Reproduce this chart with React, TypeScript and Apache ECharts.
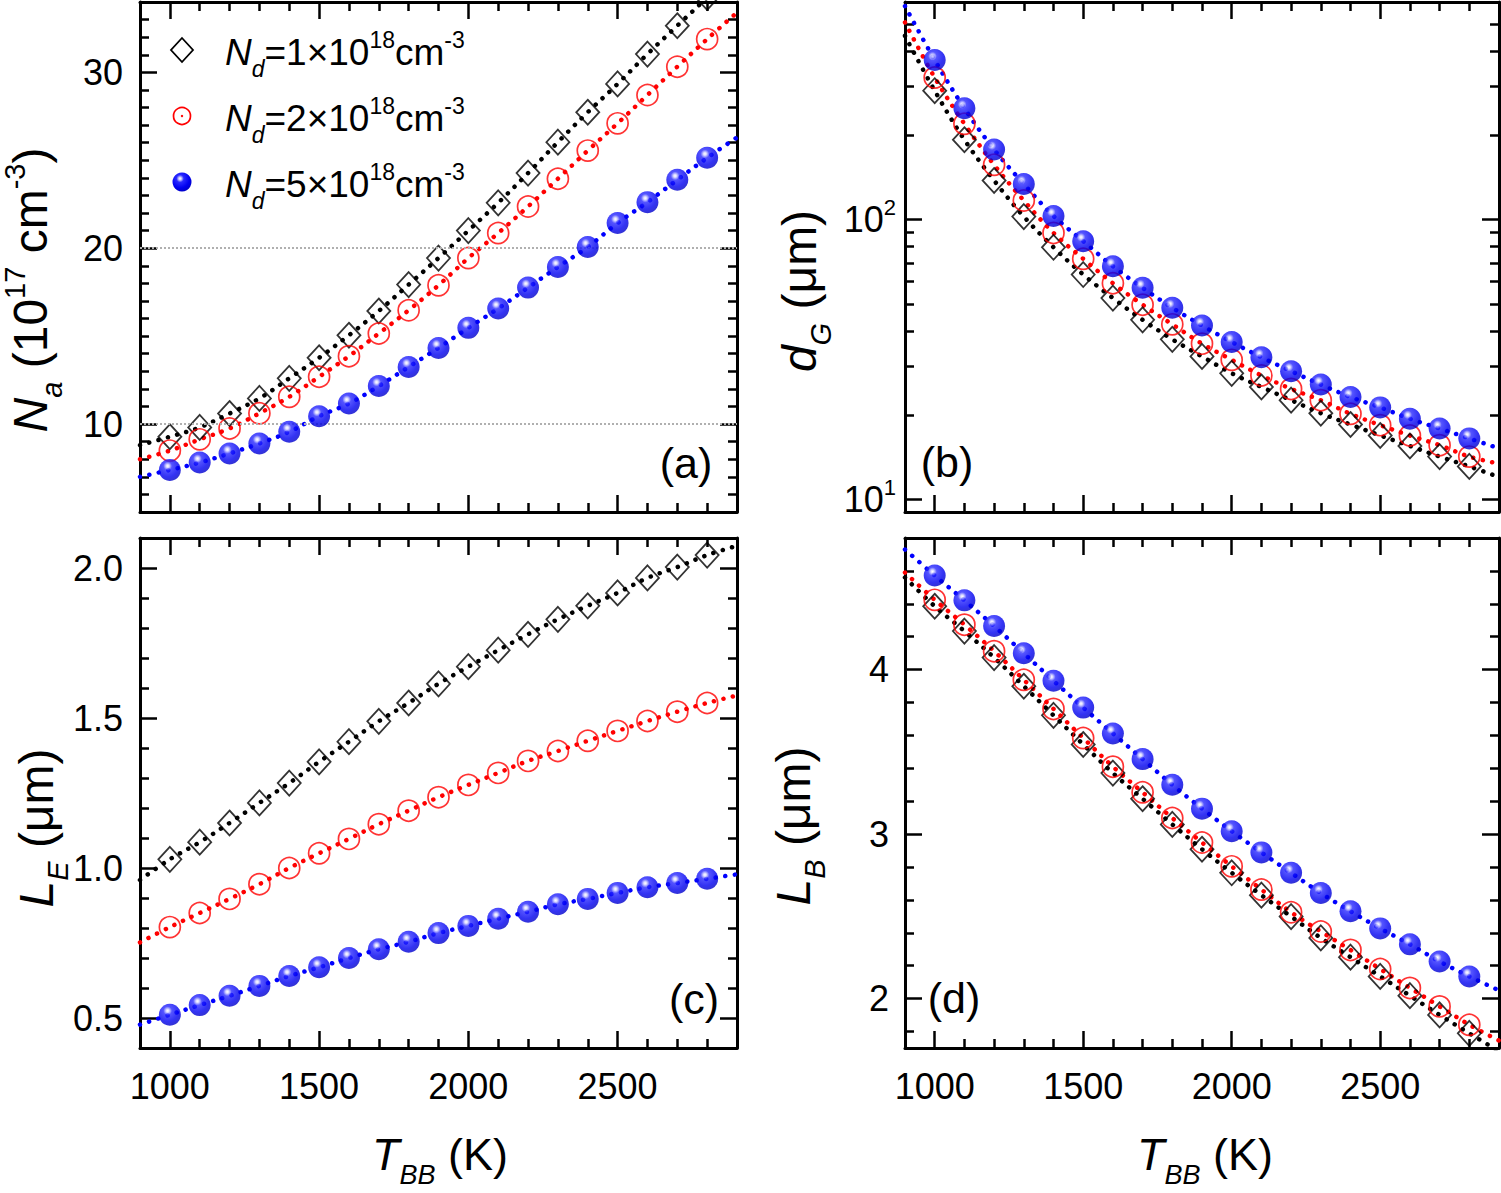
import React, { useEffect, useRef } from "react";
import * as echarts from "echarts";

const FONT = "'Liberation Sans', Arial, Helvetica, sans-serif";

// Black-body temperature (K) of the data points
const T_BB = [1000, 1100, 1200, 1300, 1400, 1500, 1600, 1700, 1800, 1900, 2000, 2100, 2200, 2300, 2400, 2500, 2600, 2700, 2800];
// Fit curves run across the whole axis: values at the two ends
const FIT_T_ENDS = [900, 2900];

// Donor doping levels (×10^18 cm^-3)
const ND_COEF = ["1", "2", "5"];
const SERIES_NAMES = ["Nd=1e18", "Nd=2e18", "Nd=5e18"];

// (a) N_a (10^17 cm^-3)
const NA_ND1 = [9.28, 9.81, 10.6, 11.46, 12.6, 13.77, 15.05, 16.43, 17.93, 19.44, 21.0, 22.58, 24.27, 26.03, 27.73, 29.34, 31.04, 32.65, 34.26];
const NA_ND2 = [8.49, 9.13, 9.75, 10.61, 11.55, 12.69, 13.86, 15.15, 16.47, 17.89, 19.44, 20.86, 22.37, 23.95, 25.55, 27.1, 28.71, 30.32, 31.89];
const NA_ND5 = [7.39, 7.81, 8.33, 8.9, 9.56, 10.45, 11.17, 12.16, 13.25, 14.33, 15.47, 16.57, 17.76, 18.93, 20.07, 21.43, 22.62, 23.89, 25.14];
const NA_FIT_ENDS = [[8.8, 35.9], [8.0, 33.4], [7.0, 26.3]];
const NA_REF_LINES = [10, 20];

// (b) d_G (um), log axis
const DG_ND1 = [289, 193, 138, 102.5, 79.6, 63.6, 52.4, 43.8, 37.3, 32.4, 28.2, 25.2, 22.6, 20.3, 18.5, 16.9, 15.5, 14.2, 13.1];
const DG_ND2 = [322, 220, 157, 117, 89.6, 72.4, 59.2, 49.6, 42.2, 36.0, 31.5, 27.7, 24.8, 22.6, 20.2, 18.4, 16.9, 15.6, 14.2];
const DG_ND5 = [372, 250, 178, 134, 103, 83.7, 68.1, 57.0, 48.4, 41.8, 36.5, 32.2, 28.7, 25.7, 23.2, 21.3, 19.4, 17.9, 16.5];
const DG_FIT_ENDS = [[454, 12.0], [507, 13.4], [580, 15.2]];

// (c) L_E (um)
const LE_ND1 = [1.029, 1.086, 1.15, 1.217, 1.283, 1.354, 1.421, 1.489, 1.55, 1.614, 1.671, 1.726, 1.779, 1.829, 1.874, 1.917, 1.967, 2.003, 2.043];
const LE_ND2 = [0.803, 0.85, 0.897, 0.946, 1.0, 1.049, 1.097, 1.146, 1.191, 1.236, 1.277, 1.317, 1.357, 1.39, 1.424, 1.457, 1.49, 1.521, 1.55];
const LE_ND5 = [0.511, 0.543, 0.574, 0.607, 0.64, 0.669, 0.7, 0.729, 0.754, 0.783, 0.807, 0.831, 0.854, 0.879, 0.897, 0.917, 0.936, 0.95, 0.964];
const LE_FIT_ENDS = [[0.96, 2.074], [0.752, 1.575], [0.478, 0.979]];

// (d) L_B (um)
const LB_ND1 = [4.385, 4.234, 4.073, 3.899, 3.722, 3.545, 3.371, 3.215, 3.059, 2.908, 2.765, 2.629, 2.499, 2.369, 2.252, 2.135, 2.018, 1.901, 1.789];
const LB_ND2 = [4.424, 4.273, 4.112, 3.938, 3.761, 3.584, 3.41, 3.254, 3.098, 2.949, 2.804, 2.663, 2.525, 2.408, 2.296, 2.18, 2.065, 1.953, 1.841];
const LB_ND5 = [4.572, 4.421, 4.265, 4.099, 3.932, 3.769, 3.612, 3.456, 3.3, 3.155, 3.018, 2.889, 2.765, 2.642, 2.531, 2.427, 2.33, 2.226, 2.135];
const LB_FIT_ENDS = [[4.56, 1.68], [4.59, 1.745], [4.73, 2.05]];

// Tick values
const X_MAJOR = [1000, 1500, 2000, 2500];
const X_MINOR = [1100, 1200, 1300, 1400, 1600, 1700, 1800, 1900, 2100, 2200, 2300, 2400, 2600, 2700, 2800];
const NA_MAJOR = [10, 20, 30];
const NA_MINOR = [6, 7, 8, 9, 11, 12, 13, 14, 15, 16, 17, 18, 19, 21, 22, 23, 24, 25, 26, 27, 28, 29, 31, 32, 33];
const DG_MAJOR = [10, 100];
const DG_MINOR = [20, 30, 40, 50, 60, 70, 80, 90, 200, 300, 400, 500];
const LE_MAJOR = [0.5, 1.0, 1.5, 2.0];
const LE_MINOR = [0.6, 0.7, 0.8, 0.9, 1.1, 1.2, 1.3, 1.4, 1.6, 1.7, 1.8, 1.9];
const LB_MAJOR = [2, 3, 4];
const LB_MINOR = [1.8, 2.2, 2.4, 2.6, 2.8, 3.2, 3.4, 3.6, 3.8, 4.2, 4.4, 4.6];

const COLORS = ["#000000", "#ff0000", "#0000ff"];
const TICK_FS = 36;

const ballGradient = () =>
  new echarts.graphic.RadialGradient(0.4, 0.32, 0.7, [
    { offset: 0, color: "#ffffff" },
    { offset: 0.1, color: "#d0d0ff" },
    { offset: 0.28, color: "#2a2aff" },
    { offset: 0.7, color: "#0000f0" },
    { offset: 1, color: "#0000c8" },
  ]);

const markerStyle = (k: number) => {
  if (k === 0)
    return { symbol: "diamond", symbolSize: [23, 25], itemStyle: { color: "rgba(0,0,0,0)", borderColor: "#000", borderWidth: 1.8 } };
  if (k === 1)
    return { symbol: "circle", symbolSize: 21, itemStyle: { color: "rgba(0,0,0,0)", borderColor: "#ff0000", borderWidth: 1.7 } };
  return { symbol: "circle", symbolSize: 22, itemStyle: { color: ballGradient(), borderWidth: 0 } };
};

const PANELS = [
  { grid: { left: 140, top: 2, width: 597, height: 510 }, yType: "value", yMin: 5, yMax: 34, yMajor: NA_MAJOR, yMinor: NA_MINOR, yMargin: 17, sets: [NA_ND1, NA_ND2, NA_ND5], ends: NA_FIT_ENDS, xLabels: false },
  { grid: { left: 905, top: 2, width: 594, height: 510 }, yType: "log", yMin: 9, yMax: 600, yMajor: DG_MAJOR, yMinor: DG_MINOR, yMargin: 9, sets: [DG_ND1, DG_ND2, DG_ND5], ends: DG_FIT_ENDS, xLabels: false },
  { grid: { left: 140, top: 538, width: 597, height: 510 }, yType: "value", yMin: 0.4, yMax: 2.1, yMajor: LE_MAJOR, yMinor: LE_MINOR, yMargin: 17, sets: [LE_ND1, LE_ND2, LE_ND5], ends: LE_FIT_ENDS, xLabels: true },
  { grid: { left: 905, top: 538, width: 594, height: 510 }, yType: "value", yMin: 1.7, yMax: 4.8, yMajor: LB_MAJOR, yMinor: LB_MINOR, yMargin: 16, sets: [LB_ND1, LB_ND2, LB_ND5], ends: LB_FIT_ENDS, xLabels: true },
];

const tickStyle = { color: "#000", width: 2.5 };
const lineOn = { show: true, onZero: false, lineStyle: { color: "#000", width: 3 } };
const lineOff = { show: false, onZero: false };

function makeXAxes(g: number, showLabels: boolean) {
  const base = { type: "value", gridIndex: g, min: 900, max: 2900, splitLine: { show: false } };
  const label = showLabels
    ? { show: true, customValues: X_MAJOR, fontSize: TICK_FS, fontFamily: FONT, color: "#000", margin: 20, formatter: (v: number) => String(v) }
    : { show: false };
  return [
    { ...base, position: "bottom", axisLine: lineOn, axisTick: { show: true, inside: true, length: 17, lineStyle: tickStyle, customValues: X_MAJOR }, axisLabel: label },
    { ...base, position: "bottom", axisLine: lineOff, axisTick: { show: true, inside: true, length: 9, lineStyle: tickStyle, customValues: X_MINOR }, axisLabel: { show: false } },
    { ...base, position: "top", axisLine: lineOn, axisTick: { show: true, inside: true, length: 17, lineStyle: tickStyle, customValues: X_MAJOR }, axisLabel: { show: false } },
    { ...base, position: "top", axisLine: lineOff, axisTick: { show: true, inside: true, length: 9, lineStyle: tickStyle, customValues: X_MINOR }, axisLabel: { show: false } },
  ];
}

function makeYAxes(g: number, p: any) {
  const base: any = { type: p.yType, gridIndex: g, min: p.yMin, max: p.yMax, splitLine: { show: false } };
  if (p.yType === "log") base.logBase = 10;
  const isLog = p.yType === "log";
  const label: any = {
    show: true,
    customValues: p.yMajor,
    fontSize: TICK_FS,
    fontFamily: FONT,
    color: "#000",
    margin: p.yMargin,
    formatter: isLog
      ? (v: number) => `{b|10}{s|${Math.round(Math.log10(v))}}`
      : (v: number) => (p.yMin < 1 ? v.toFixed(1) : String(v)),
  };
  if (isLog) {
    label.rich = {
      b: { fontSize: TICK_FS, fontFamily: FONT, color: "#000" },
      s: { fontSize: 22, fontFamily: FONT, color: "#000", verticalAlign: "top", height: 12 },
    };
  }
  return [
    { ...base, position: "left", axisLine: lineOn, axisTick: { show: true, inside: true, length: 17, lineStyle: tickStyle, customValues: p.yMajor }, axisLabel: label },
    { ...base, position: "left", axisLine: lineOff, axisTick: { show: true, inside: true, length: 9, lineStyle: tickStyle, customValues: p.yMinor }, axisLabel: { show: false } },
    { ...base, position: "right", axisLine: lineOn, axisTick: { show: true, inside: true, length: 17, lineStyle: tickStyle, customValues: p.yMajor }, axisLabel: { show: false } },
    { ...base, position: "right", axisLine: lineOff, axisTick: { show: true, inside: true, length: 9, lineStyle: tickStyle, customValues: p.yMinor }, axisLabel: { show: false } },
  ];
}

function makeRich(F: number, S: number) {
  return {
    i: { fontSize: F, fontStyle: "italic", fontFamily: FONT, fill: "#000" },
    isub: { fontSize: S, fontStyle: "italic", fontFamily: FONT, fill: "#000", verticalAlign: "bottom", height: Math.max(2, Math.round(S * 0.15)) },
    r: { fontSize: F, fontFamily: FONT, fill: "#000" },
    sup: { fontSize: S, fontFamily: FONT, fill: "#000", verticalAlign: "top", height: Math.round(S * 0.58) },
  };
}

const YTITLE_F = 48;
const XTITLE_F = 45;
const LEG_F = 37;

function titleText(x: number, y: number, text: string, rotate: boolean, F: number) {
  return {
    type: "text",
    x,
    y,
    rotation: rotate ? Math.PI / 2 : 0,
    z: 100,
    style: { text, rich: makeRich(F, Math.round(F * 0.6)), align: "center", verticalAlign: "middle", fontSize: F, fontFamily: FONT, fill: "#000" },
  };
}

function panelLabel(x: number, y: number, text: string) {
  return {
    type: "text",
    x,
    y,
    z: 100,
    style: { text, align: "center", verticalAlign: "middle", fontSize: 43, fontFamily: FONT, fill: "#000" },
  };
}

function buildOption() {
  const xAxis: any[] = [];
  const yAxis: any[] = [];
  const series: any[] = [];
  PANELS.forEach((p, g) => {
    xAxis.push(...makeXAxes(g, p.xLabels));
    yAxis.push(...makeYAxes(g, p));
    if (g === 0) {
      series.push({
        type: "line",
        xAxisIndex: 0,
        yAxisIndex: 0,
        data: [],
        z: 1,
        silent: true,
        markLine: {
          silent: true,
          symbol: ["none", "none"],
          label: { show: false },
          lineStyle: { color: "#b0b0b0", width: 2.2, type: [2, 2] },
          data: NA_REF_LINES.map((v) => ({ yAxis: v })),
        },
      });
    }
    p.sets.forEach((vals, k) => {
      const fitData = [[FIT_T_ENDS[0], p.ends[k][0]], ...T_BB.map((t, i) => [t, vals[i]]), [FIT_T_ENDS[1], p.ends[k][1]]];
      series.push({
        type: "line",
        name: SERIES_NAMES[k] + " fit",
        xAxisIndex: 4 * g,
        yAxisIndex: 4 * g,
        data: fitData,
        smooth: 0.35,
        symbol: "none",
        silent: true,
        clip: true,
        z: 2,
        lineStyle: { color: COLORS[k], width: 4.5, type: [0.1, 9.5], cap: "round" },
      });
    });
    p.sets.forEach((vals, k) => {
      series.push({
        type: "scatter",
        name: SERIES_NAMES[k],
        xAxisIndex: 4 * g,
        yAxisIndex: 4 * g,
        data: T_BB.map((t, i) => [t, vals[i]]),
        clip: false,
        z: 3 + k,
        ...markerStyle(k),
      });
    });
  });

  const graphic: any[] = [];
  // axis titles
  graphic.push(titleText(30, 290, "{i|N}{isub|a}{r| (10}{sup|17}{r| cm}{sup|-3}{r|)}", true, YTITLE_F));
  graphic.push(titleText(799, 291, "{i|d}{isub|G}{r| (μm)}", true, YTITLE_F));
  graphic.push(titleText(36, 828, "{i|L}{isub|E}{r| (μm)}", true, YTITLE_F));
  graphic.push(titleText(793, 826, "{i|L}{isub|B}{r| (μm)}", true, YTITLE_F));
  graphic.push(titleText(440, 1154, "{i|T}{isub|BB}{r| (K)}", false, XTITLE_F));
  graphic.push(titleText(1205, 1154, "{i|T}{isub|BB}{r| (K)}", false, XTITLE_F));
  // panel labels
  graphic.push(panelLabel(686, 463, "(a)"));
  graphic.push(panelLabel(947, 462, "(b)"));
  graphic.push(panelLabel(694, 999, "(c)"));
  graphic.push(panelLabel(954, 998, "(d)"));

  // legend (inside panel a)
  const legX = 182;
  const legY = [50, 116, 182];
  graphic.push({
    type: "polygon",
    z: 100,
    shape: { points: [[legX, legY[0] - 12], [legX + 11, legY[0]], [legX, legY[0] + 12], [legX - 11, legY[0]]] },
    style: { fill: "none", stroke: "#000", lineWidth: 1.8 },
  });
  graphic.push({ type: "circle", z: 100, shape: { cx: legX, cy: legY[1], r: 8.5 }, style: { fill: "none", stroke: "#ff0000", lineWidth: 1.7 } });
  graphic.push({ type: "circle", z: 100, shape: { cx: legX, cy: legY[1], r: 1.2 }, style: { fill: "#ff0000" } });
  graphic.push({ type: "circle", z: 100, shape: { cx: legX, cy: legY[2], r: 9.5 }, style: { fill: ballGradient() } });
  const legendRich = makeRich(LEG_F, 23);
  ND_COEF.forEach((c, k) => {
    graphic.push({
      type: "text",
      x: 225,
      y: legY[k] + 2,
      z: 100,
      style: {
        text: `{i|N}{isub|d}{r|=${c}×10}{sup|18}{r|cm}{sup|-3}`,
        rich: legendRich,
        align: "left",
        verticalAlign: "middle",
        fontSize: LEG_F,
        fontFamily: FONT,
        fill: "#000",
      },
    });
  });

  return {
    animation: false,
    backgroundColor: "#ffffff",
    grid: PANELS.map((p) => ({ ...p.grid, containLabel: false })),
    xAxis,
    yAxis,
    series,
    graphic,
  };
}

export default function App() {
  const ref = useRef<HTMLDivElement>(null);
  useEffect(() => {
    if (!ref.current) return;
    const chart = echarts.init(ref.current, null, { renderer: "svg" });
    chart.setOption(buildOption() as any);
    return () => {
      chart.dispose();
    };
  }, []);
  return (
    <div
      ref={ref}
      style={{ position: "absolute", left: 0, top: 0, width: 1501, height: 1193, background: "#ffffff" }}
    />
  );
}
